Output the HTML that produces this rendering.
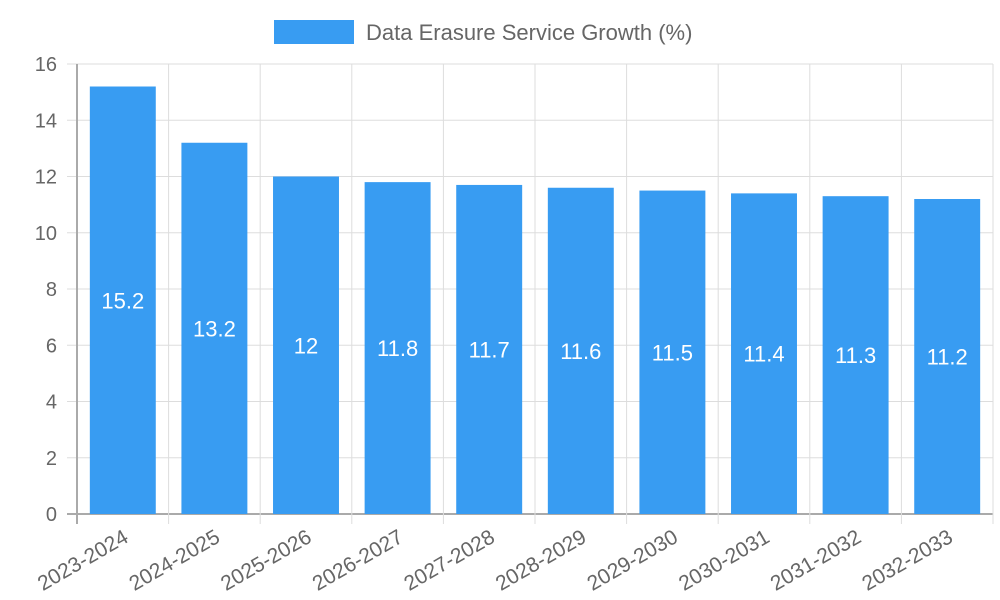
<!DOCTYPE html>
<html><head><meta charset="utf-8"><style>
body{margin:0;background:#fff;}
svg{display:block;font-family:"Liberation Sans",sans-serif;}
</style></head><body>
<svg id="chart" width="1000" height="600">
<g id="legend">
<rect x="274" y="20" width="80" height="24" fill="#389cf2"></rect>
<text x="366" y="40" font-size="22" fill="#666">Data Erasure Service Growth (%)</text>
</g>
<g id="grid"></g>
<g id="bars"></g>
<g id="axes"></g>
</svg>
<script>
const categories = ["2023-2024","2024-2025","2025-2026","2026-2027","2027-2028","2028-2029","2029-2030","2030-2031","2031-2032","2032-2033"];
const values = [15.2,13.2,12,11.8,11.7,11.6,11.5,11.4,11.3,11.2];
const yTicks = [0,2,4,6,8,10,12,14,16];
const NS="http://www.w3.org/2000/svg";
const L=77,R=993,T=64,B=514,yMax=16;
const bw=(R-L)/categories.length;
const x=i=>L+i*bw;
const y=v=>B-(v/yMax)*(B-T);
function mk(tag,attrs,parent){const e=document.createElementNS(NS,tag);for(const k in attrs)e.setAttribute(k,attrs[k]);parent.appendChild(e);return e;}
const grid=document.getElementById('grid'),bars=document.getElementById('bars'),axes=document.getElementById('axes');
yTicks.forEach(t=>{
  const ln=mk('line',{x1:L-10,x2:R,y1:y(t),y2:y(t),stroke:t===0?'#aaa':'#ddd','stroke-width':t===0?2:1},grid);
  
  
  const tx=mk('text',{x:L-20,y:y(t)+7,'text-anchor':'end','font-size':20,fill:'#666'},axes);
  tx.textContent=t;
  
  
});
for(let i=0;i<=categories.length;i++){
  const ln=mk('line',{x1:x(i),x2:x(i),y1:T,y2:B+10,stroke:i===0?'#aaa':'#ddd','stroke-width':i===0?2:1},grid);
  
  
}
categories.forEach((c,i)=>{
  const w=bw*0.72,cx=x(i)+bw/2;
  const r=mk('rect',{x:cx-w/2,y:y(values[i]),width:w,height:B-y(values[i]),fill:'#389cf2'},bars);
  
  
  const v=mk('text',{x:cx,y:(y(values[i])+B)/2+8,'text-anchor':'middle','font-size':22,fill:'#fff'},bars);
  v.textContent=values[i];
  
  
  const lx=cx+7,ly=541;
  const t=mk('text',{x:lx,y:ly,'text-anchor':'end','font-size':21,fill:'#666',transform:`rotate(-30 ${lx} ${ly})`},axes);
  t.textContent=c;
  
  
});
</script>
</body></html>
